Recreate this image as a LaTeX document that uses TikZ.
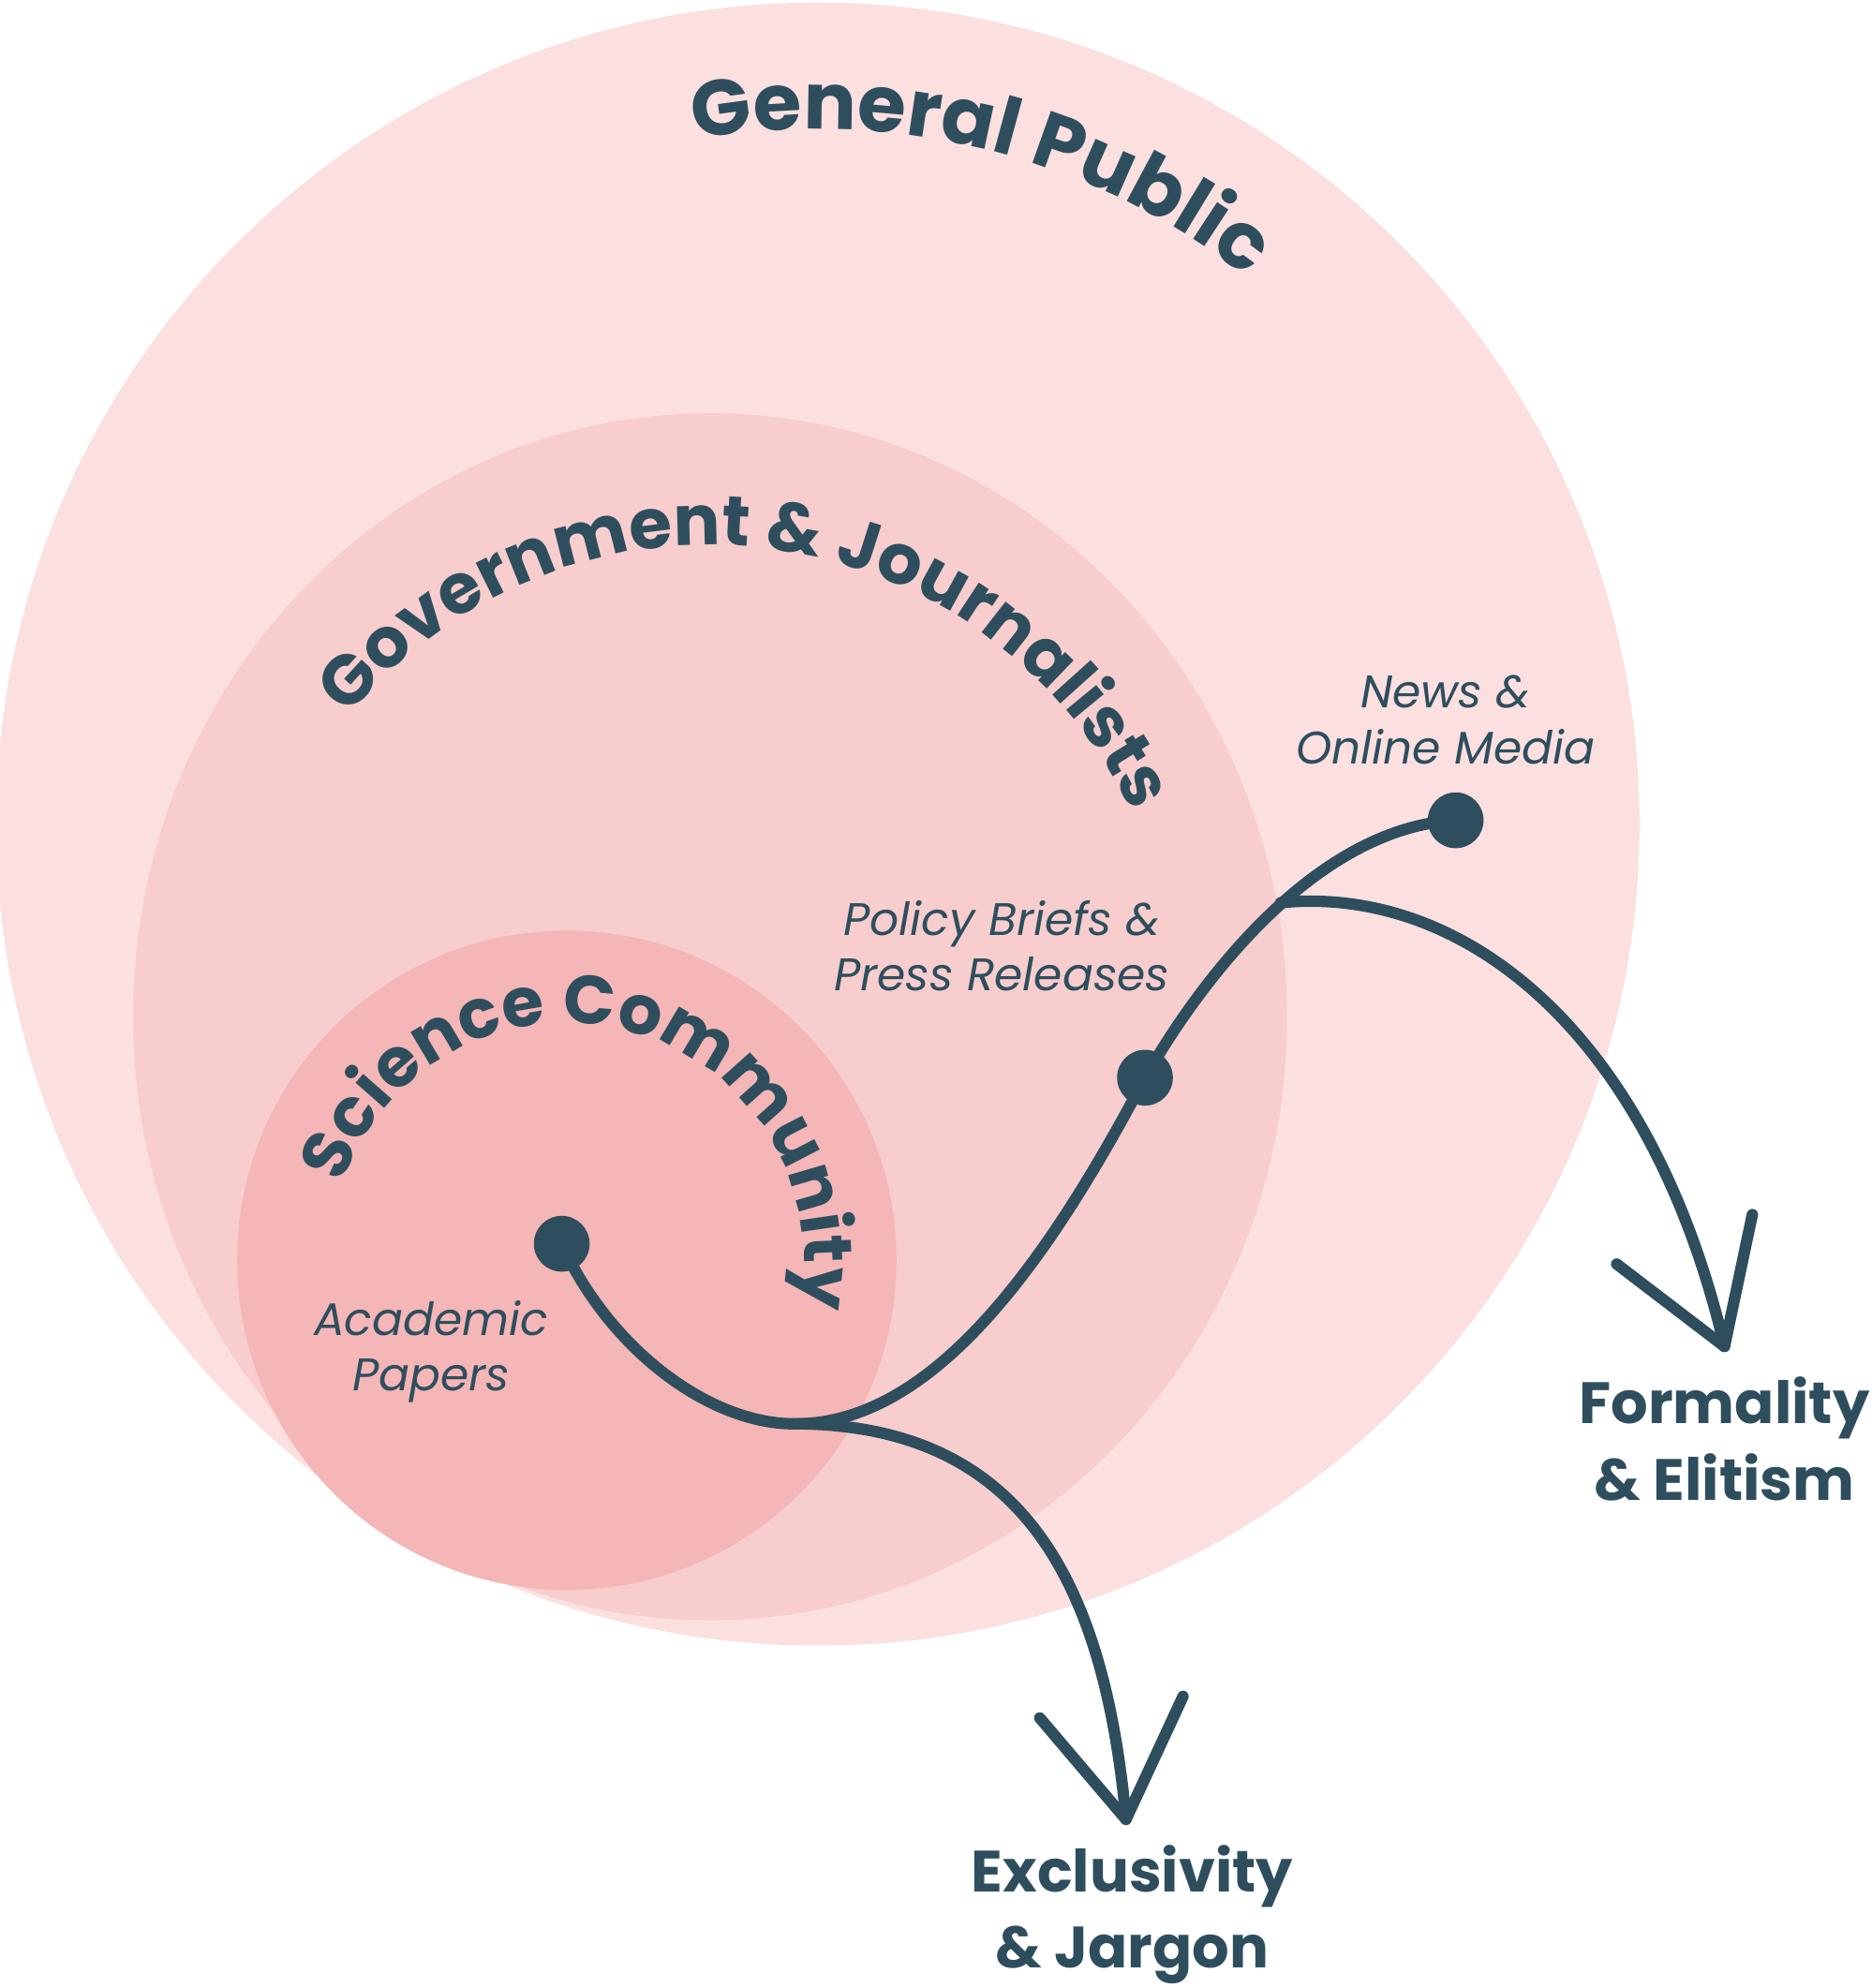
\documentclass[tikz,border=0pt]{standalone}
\usepackage{fontspec}
\setmainfont{Poppins}
\usetikzlibrary{decorations.text}
\definecolor{dk}{HTML}{2E4E5E}
\definecolor{cA}{HTML}{FCE0E0}
\definecolor{cB}{HTML}{F7CDCD}
\definecolor{cC}{HTML}{F4B6B6}
\begin{document}
\begin{tikzpicture}[x=1pt,y=1pt,
  flow/.style={draw=dk,line width=9pt,line cap=round,line join=round},
  dotm/.style={circle,fill=dk,inner sep=0pt,minimum size=44pt},
  lab/.style={text=dk,font=\fontsize{36}{44}\selectfont\itshape,align=center},
  outl/.style={text=dk,font=\fontsize{46}{60}\selectfont\bfseries,align=center}]
\useasboundingbox (0,0) rectangle (1476,1568);
\fill[cA] (645,918) circle (648);
\fill[cB] (560,766) ellipse [x radius=455, y radius=476];
\fill[cC] (447,574) circle (260);
% curved titles
\path[decorate,decoration={text along path,text align=center,text color=dk,
  text={|\fontsize{62}{62}\selectfont\bfseries|General Public}}]
  (645,918) ++(126:548) arc[start angle=126,end angle=26,radius=548];
\path[decorate,decoration={text along path,text align=center,text color=dk,
  text={|\fontsize{55}{55}\selectfont\bfseries|Government {\&} Journalists}}]
  (560,770) ++(160:368) arc[start angle=160,end angle=6,radius=368];
\path[decorate,decoration={text along path,text align=center,text color=dk,
  text={|\fontsize{54}{54}\selectfont\bfseries|Science Community}}]
  (447,574) ++(175:187) arc[start angle=175,end angle=-25,radius=187];
% nodes
\node[dotm] (d1) at (443,587) {};
\node[dotm] (d2) at (903,718) {};
\node[dotm] (d3) at (1148,921) {};
\coordinate (low) at (630,445);
\coordinate (knee) at (1010,856);
\coordinate (t1) at (888,133);
\coordinate (t2) at (1360,506);
\coordinate (a1) at (820,213);
\coordinate (b1) at (933,230);
\coordinate (a2) at (1275,571);
\coordinate (b2) at (1382,610);
\draw[flow] (d1.center) .. controls (480,505) and (560,443) .. (low)
  .. controls (740,447) and (830,580) .. (d2.center)
  .. controls (950,800) and (1040,915) .. (d3.center);
\draw[flow] (low) .. controls (800,443) and (870,330) .. (t1);
\draw[flow] (knee) .. controls (1150,870) and (1300,760) .. (t2);
\draw[flow] (a1) -- (t1) -- (b1);
\draw[flow] (a2) -- (t2) -- (b2);
% labels
\node[lab] (n1) at (1140,1000) {News \&\\Online Media};
\node[lab] (n2) at (790,822) {Policy Briefs \&\\Press Releases};
\node[lab] (n3) at (340,502) {Academic\\Papers};
\node[outl] (o1) at (1360,433) {Formality\\\& Elitism};
\node[outl] (o2) at (893,58) {Exclusivity\\\& Jargon};
\end{tikzpicture}
\end{document}
